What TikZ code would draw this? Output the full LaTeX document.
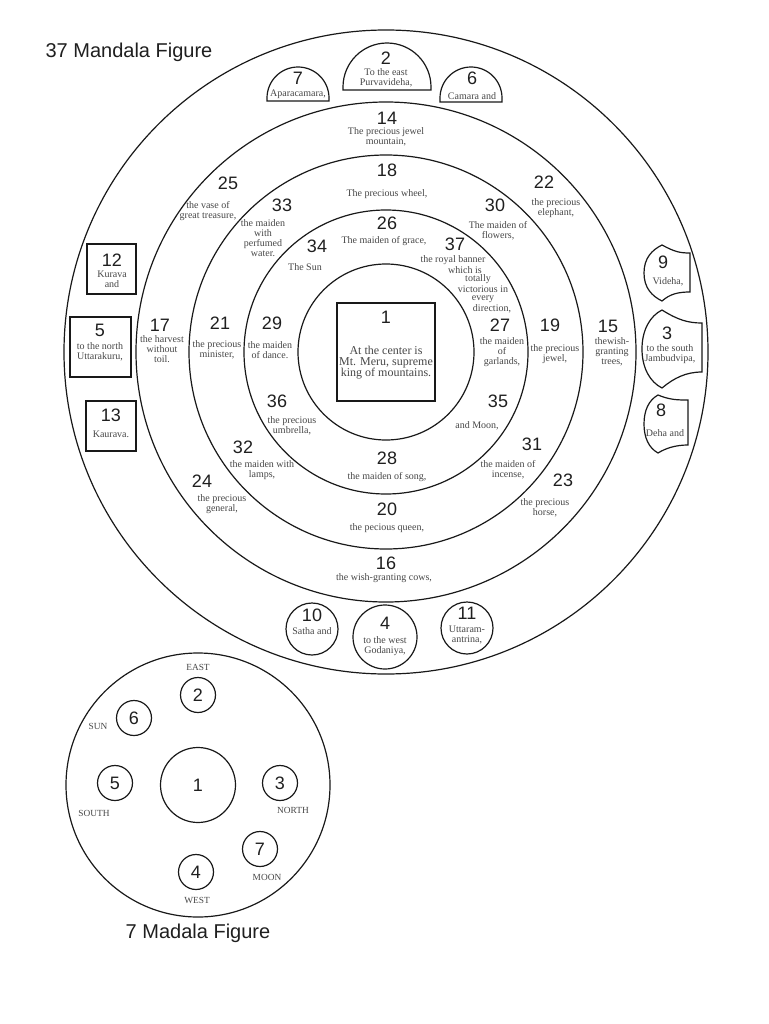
\documentclass[tikz,border=0pt]{standalone}
\usepackage{fontspec}
\setmainfont{Liberation Serif}
\newfontfamily\numfont{Liberation Sans}
\begin{document}
\begin{tikzpicture}[x=0.75pt,y=-0.75pt,
  ln/.style={draw=black!90, line width=0.9pt},
  num/.style={font=\numfont\fontsize{13.5}{14}\selectfont, text=black!88, inner sep=0pt},
  lbl/.style={font=\fontsize{7.5}{7.5}\selectfont, text=black!72, align=center, inner sep=0pt},
  big/.style={font=\fontsize{9}{8.3}\selectfont, text=black!72, align=center, inner sep=0pt},
  ttl/.style={font=\numfont\fontsize{15}{16}\selectfont, text=black!88, inner sep=0pt},
  dir/.style={font=\fontsize{7}{7}\selectfont, text=black!72, inner sep=0pt},
]
\useasboundingbox (0,0) rectangle (768,1024);
\fill[white] (0,0) rectangle (768,1024);

% ---------- 37 mandala ----------
\node[ttl] (title37) at (129,52) {37 Mandala Figure};

\coordinate (ctr) at (386,352);
\draw[ln] (ctr) circle[radius=322];
\draw[ln] (ctr) circle[radius=250];
\draw[ln] (ctr) circle[radius=197];
\draw[ln] (ctr) circle[radius=142];
\draw[ln] (ctr) circle[radius=88];
\draw[ln] (337,303) rectangle (435,401);

\node[num] (n1) at (386,317) {1};
\node[big] (t1) at (386,363) {At the center is\\Mt. Meru, supreme\\king of mountains.};

% outer ring pieces: domes
\draw[ln] (343,90) -- (343,87) arc[start angle=180,end angle=360,radius=44] -- (431,90) -- cycle;
\draw[ln] (267,101) -- (267,98) arc[start angle=180,end angle=360,radius=31] -- (329,101) -- cycle;
\draw[ln] (440,102) -- (440,98) arc[start angle=180,end angle=360,radius=31] -- (502,102) -- cycle;
\node[num] (n2) at (386,58) {2};
\node[lbl] (t2) at (386,78) {To the east\\Purvavideha,};
\node[num] (n7) at (298,78) {7};
\node[lbl] (t7) at (298,94) {Aparacamara,};
\node[num] (n6) at (472,78) {6};
\node[lbl] (t6) at (472,96) {Camara and};

% left boxes
\draw[ln] (87,244) rectangle (136,294);
\draw[ln] (70,317) rectangle (131,377);
\draw[ln] (86,401) rectangle (136,451);
\node[num] (n12) at (112,260) {12};
\node[lbl] (t12) at (112,279) {Kurava\\and};
\node[num] (n5) at (100,330) {5};
\node[lbl] (t5) at (100,352) {to the north\\Uttarakuru,};
\node[num] (n13) at (111,415) {13};
\node[lbl] (t13) at (111,434) {Kaurava.};

% right shields
\draw[ln] (662,245) .. controls (675,252) and (680,253) .. (690,253) -- (690,292)
  .. controls (678,292) and (670,294) .. (662,301)
  .. controls (652,296) and (644,288) .. (644,273)
  .. controls (644,258) and (652,250) .. cycle;
\draw[ln] (662,310) .. controls (678,320) and (688,323) .. (702,323) -- (702,372)
  .. controls (686,372) and (674,378) .. (662,388)
  .. controls (650,382) and (642,368) .. (642,349)
  .. controls (642,330) and (650,316) .. cycle;
\draw[ln] (658,395) .. controls (670,400) and (678,400) .. (688,400) -- (688,445)
  .. controls (676,445) and (666,448) .. (658,453)
  .. controls (649,448) and (644,438) .. (644,424)
  .. controls (644,410) and (649,400) .. cycle;
\node[num] (n9) at (663,262) {9};
\node[lbl] (t9) at (668,282) {Videha,};
\node[num] (n3) at (667,333) {3};
\node[lbl] (t3) at (670,354) {to the south\\Jambudvipa,};
\node[num] (n8) at (661,410) {8};
\node[lbl] (t8) at (665,433) {Deha and};

% bottom circles
\draw[ln] (312,629) circle[radius=26];
\draw[ln] (385,637) circle[radius=32];
\draw[ln] (467,628) circle[radius=26];
\node[num] (n10) at (312,615) {10};
\node[lbl] (t10) at (312,631) {Satha and};
\node[num] (n4) at (385,623) {4};
\node[lbl] (t4) at (385,646) {to the west\\Godaniya,};
\node[num] (n11) at (467,613) {11};
\node[lbl] (t11) at (467,635) {Uttaram-\\antrina,};

% ring 2
\node[num] (n14) at (387,118) {14};
\node[lbl] (t14) at (386,137) {The precious jewel\\mountain,};
\node[num] (n22) at (544,182) {22};
\node[lbl] (t22) at (556,208) {the precious\\elephant,};
\node[num] (n15) at (608,326) {15};
\node[lbl] (t15) at (612,352) {thewish-\\granting\\trees,};
\node[num] (n23) at (563,480) {23};
\node[lbl] (t23) at (545,508) {the precious\\horse,};
\node[num] (n16) at (386,563) {16};
\node[lbl] (t16) at (384,578) {the wish-granting cows,};
\node[num] (n24) at (202,481) {24};
\node[lbl] (t24) at (222,504) {the precious\\general,};
\node[num] (n17) at (160,325) {17};
\node[lbl] (t17) at (162,349) {the harvest\\without\\toil.};
\node[num] (n25) at (228,183) {25};
\node[lbl] (t25) at (208,211) {the vase of\\great treasure,};

% ring 3
\node[num] (n18) at (387,170) {18};
\node[lbl] (t18) at (387,194) {The precious wheel,};
\node[num] (n30) at (495,205) {30};
\node[lbl] (t30) at (498,231) {The maiden of\\flowers,};
\node[num] (n19) at (550,325) {19};
\node[lbl] (t19) at (555,354) {the precious\\jewel,};
\node[num] (n31) at (532,444) {31};
\node[lbl] (t31) at (508,470) {the maiden of\\incense,};
\node[num] (n20) at (387,509) {20};
\node[lbl] (t20) at (387,528) {the pecious queen,};
\node[num] (n32) at (243,447) {32};
\node[lbl] (t32) at (262,470) {the maiden with\\lamps,};
\node[num] (n21) at (220,323) {21};
\node[lbl] (t21) at (217,350) {the precious\\minister,};
\node[num] (n33) at (282,205) {33};
\node[lbl] (t33) at (263,238) {the maiden\\with\\perfumed\\water.};

% ring 4
\node[num] (n26) at (387,223) {26};
\node[lbl] (t26) at (384,241) {The maiden of grace,};
\node[num] (n37) at (455,244) {37};
\node[lbl] (t37a) at (453,260) {the royal banner};
\node[lbl] (t37b) at (465,270) {which is};
\node[lbl] (t37c) at (478,279) {totally};
\node[lbl] (t37d) at (483,289) {victorious in};
\node[lbl] (t37e) at (483,299) {every};
\node[lbl] (t37f) at (492,309) {direction,};
\node[num] (n27) at (500,325) {27};
\node[lbl] (t27) at (502,352) {the maiden\\of\\garlands,};
\node[num] (n35) at (498,401) {35};
\node[lbl] (t35) at (477,426) {and Moon,};
\node[num] (n28) at (387,458) {28};
\node[lbl] (t28) at (387,477) {the maiden of song,};
\node[num] (n36) at (277,401) {36};
\node[lbl] (t36) at (292,426) {the precious\\umbrella,};
\node[num] (n29) at (272,323) {29};
\node[lbl] (t29) at (270,350) {the maiden\\of dance.};
\node[num] (n34) at (317,246) {34};
\node[lbl] (t34) at (305,267) {The Sun};

% ---------- 7 mandala ----------
\draw[ln] (198,785) circle[radius=132];
\node[ln, circle, minimum size=56.25pt, inner sep=0pt, num] (m1) at (198,785) {1};
\node[ln, circle, minimum size=26.25pt, inner sep=0pt, num] (m2) at (198,695) {2};
\node[ln, circle, minimum size=26.25pt, inner sep=0pt, num] (m6) at (134,718) {6};
\node[ln, circle, minimum size=26.25pt, inner sep=0pt, num] (m5) at (115,783) {5};
\node[ln, circle, minimum size=26.25pt, inner sep=0pt, num] (m3) at (280,783) {3};
\node[ln, circle, minimum size=26.25pt, inner sep=0pt, num] (m7) at (260,849) {7};
\node[ln, circle, minimum size=26.25pt, inner sep=0pt, num] (m4) at (196,872) {4};
\node[dir] (east) at (198,667) {EAST};
\node[dir] (sun) at (98,726) {SUN};
\node[dir] (south) at (94,813) {SOUTH};
\node[dir] (north) at (293,810) {NORTH};
\node[dir] (moon) at (267,877) {MOON};
\node[dir] (west) at (197,900) {WEST};
\node[ttl] (title7) at (198,933) {7 Madala Figure};
\end{tikzpicture}
\end{document}
